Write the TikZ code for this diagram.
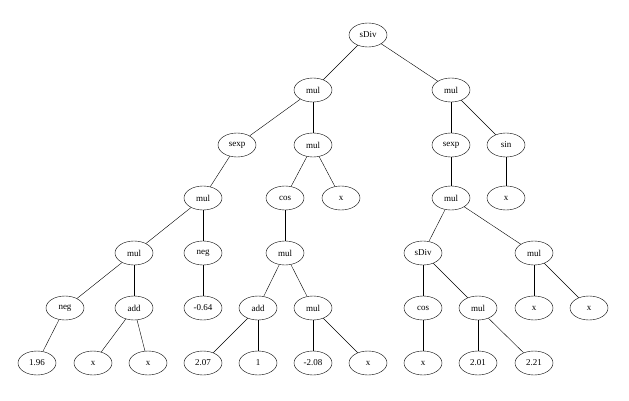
\documentclass[tikz,border=0pt]{standalone}
\usepackage{fontspec}
\setmainfont{Liberation Serif}
\usetikzlibrary{shapes.geometric}
\begin{document}
\begin{tikzpicture}[x=1pt,y=-1pt,
  nd/.style={ellipse,draw,minimum width=38pt,minimum height=24pt,inner sep=1pt,font=\fontsize{9}{10}\selectfont}]
\useasboundingbox (0,0) rectangle (629,401);
\node[nd] (a) at (368,35) {sDiv};
\node[nd] (b1) at (313,90) {mul};
\node[nd] (b2) at (451,90) {mul};
\node[nd] (c1) at (237,145) {sexp};
\node[nd] (c2) at (313,145) {mul};
\node[nd] (c3) at (451,145) {sexp};
\node[nd] (c4) at (506,145) {sin};
\node[nd] (d1) at (203,198) {mul};
\node[nd] (d2) at (285,198) {cos};
\node[nd] (d3) at (341,198) {x};
\node[nd] (d4) at (451,198) {mul};
\node[nd] (d5) at (506,198) {x};
\node[nd] (e1) at (134,253) {mul};
\node[nd] (e2) at (203,253) {neg};
\node[nd] (e3) at (285,253) {mul};
\node[nd] (e4) at (423,253) {sDiv};
\node[nd] (e5) at (534,253) {mul};
\node[nd] (f1) at (65,308) {neg};
\node[nd] (f2) at (134,308) {add};
\node[nd] (f3) at (203,308) {-0.64};
\node[nd] (f4) at (258,308) {add};
\node[nd] (f5) at (313,308) {mul};
\node[nd] (f6) at (423,308) {cos};
\node[nd] (f7) at (478,308) {mul};
\node[nd] (f8) at (534,308) {x};
\node[nd] (f9) at (589,308) {x};
\node[nd] (g1) at (37,363) {1.96};
\node[nd] (g2) at (93,363) {x};
\node[nd] (g3) at (148,363) {x};
\node[nd] (g4) at (203,363) {2.07};
\node[nd] (g5) at (258,363) {1};
\node[nd] (g6) at (313,363) {-2.08};
\node[nd] (g7) at (368,363) {x};
\node[nd] (g8) at (423,363) {x};
\node[nd] (g9) at (478,363) {2.01};
\node[nd] (g10) at (534,363) {2.21};
\foreach \p/\c in {a/b1,a/b2,b1/c1,b1/c2,b2/c3,b2/c4,c1/d1,c2/d2,c2/d3,c3/d4,c4/d5,
  d1/e1,d1/e2,d2/e3,d4/e4,d4/e5,e1/f1,e1/f2,e2/f3,e3/f4,e3/f5,e4/f6,e4/f7,e5/f8,e5/f9,
  f1/g1,f2/g2,f2/g3,f4/g4,f4/g5,f5/g6,f5/g7,f6/g8,f7/g9,f7/g10}
  \draw (\p) -- (\c);
\end{tikzpicture}
\end{document}
